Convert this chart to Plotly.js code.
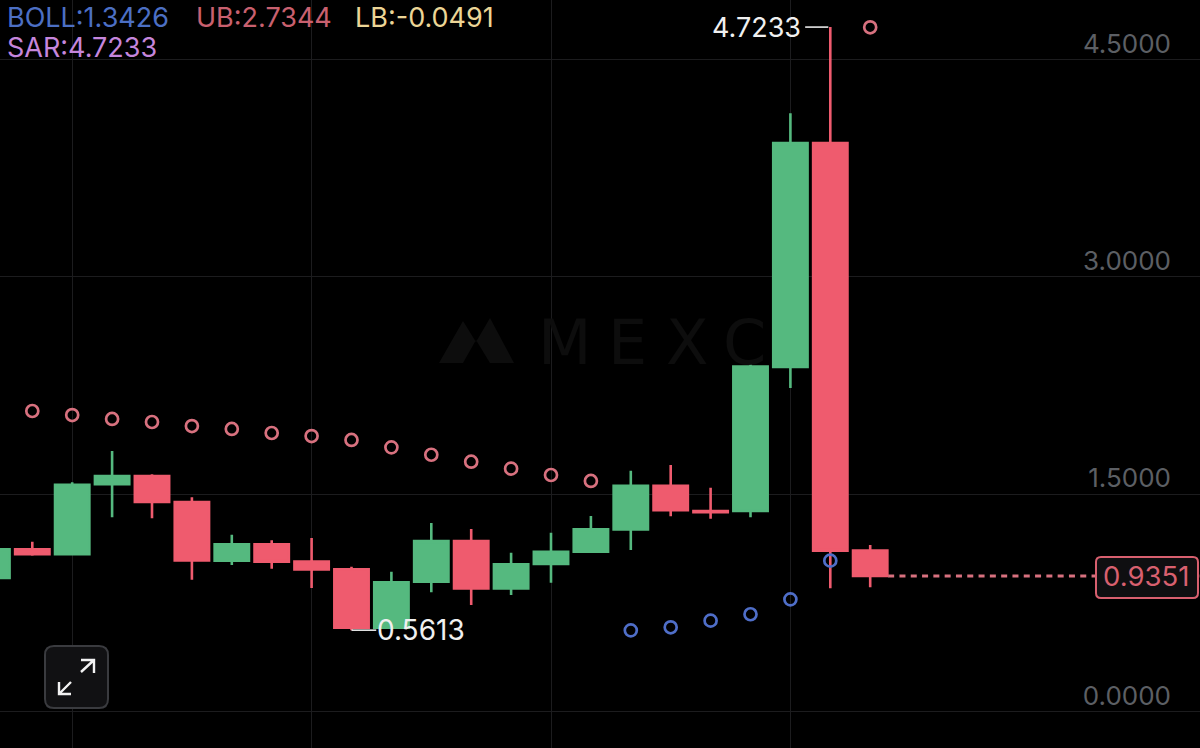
<!DOCTYPE html>
<html>
<head>
<meta charset="utf-8">
<script src="https://cdn.plot.ly/plotly-3.0.1.min.js"></script>
<style>html,body{margin:0;padding:0;background:#000;overflow:hidden}#chart{width:1200px;height:748px}</style>
</head>
<body>
<div id="chart"></div>
<script>
// ---- data ----
const candleIndex = [0,1,2,3,4,5,6,7,8,9,10,11,12,13,14,15,16,17,18,19,20,21,22];
const opens  = [0.921,1.119,1.085,1.568,1.625,1.446,1.041,1.154,1.034,0.981,0.578,0.896,1.177,0.850,1.018,1.103,1.257,1.558,1.384,1.384,2.378,3.923,1.110];
const closes = [1.119,1.085,1.565,1.625,1.446,1.043,1.154,1.034,0.981,0.578,0.892,1.177,0.850,1.016,1.103,1.257,1.558,1.389,1.376,2.380,3.923,1.110,0.9351];
const highs  = [1.119,1.172,1.582,1.798,1.637,1.478,1.220,1.181,1.197,0.999,0.965,1.301,1.260,1.096,1.234,1.349,1.662,1.701,1.545,2.398,4.128,4.7233,1.149];
const lows   = [0.921,1.075,1.078,1.340,1.333,0.910,1.011,0.986,0.852,0.5613,0.570,0.823,0.735,0.804,0.889,1.103,1.115,1.347,1.331,1.340,2.233,0.850,0.857];

const sarUpIndex = [1,2,3,4,5,6,7,8,9,10,11,12,13,14,15,22];
const sarUp      = [2.074,2.046,2.019,1.998,1.970,1.950,1.922,1.901,1.874,1.823,1.772,1.724,1.676,1.632,1.591,4.722];
const sarDownIndex = [16,17,18,19,20,21];
const sarDown      = [0.560,0.581,0.627,0.671,0.774,1.041];

const priceTicks = [0,1.5,3,4.5];
const timeGrid = [2,8,14,20];
const lastPrice = 0.9351, highPrice = 4.7233, lowPrice = 0.5613;
const highIndex = 21, lowIndex = 9;
const legendRow = [["BOLL:1.3426",6,17,"#4c6fc4"],["UB:2.7344",195,17,"#c9606f"],["LB:-0.0491",354,17,"#ecd596"],["SAR:4.7233",6,48,"#c586dc"]];
const watermarkLetters = [["M",565],["E",627],["X",687],["C",745]];

// ---- helpers (page pixels to paper fractions, for overlay furniture only) ----
const W = 1200, H = 748;
const px = x => +(x / W).toFixed(5), py = y => +(1 - y / H).toFixed(5);
const SPACING = 39.9, X0 = -7.6, PXPERUNIT = 144.9, Y0 = 711.5;
const path = (cmds) => cmds.map(c => typeof c === 'string' ? c : px(c[0]) + ',' + py(c[1])).join(' ');
function roundRect(l, t, r, b, k) {
  return path(['M',[l+k,t],'L',[r-k,t],'Q',[r,t],[r,t+k],'L',[r,b-k],'Q',[r,b],[r-k,b],'L',[l+k,b],'Q',[l,b],[l,b-k],'L',[l,t+k],'Q',[l,t],[l+k,t],'Z']);
}
const FONT = 'Inter, "Liberation Sans", sans-serif';
const GREEN = '#55b97f', RED = '#ef5b6e', HOLLOW_RED = '#d8717f', HOLLOW_BLUE = '#4f6ec8', GRID = '#1c1c1e';

const traces = [
  { type:'candlestick', x:candleIndex, open:opens, high:highs, low:lows, close:closes,
    whiskerwidth:0,
    increasing:{line:{color:GREEN,width:2.6},fillcolor:GREEN},
    decreasing:{line:{color:RED,width:2.6},fillcolor:RED},
    hoverinfo:'skip', showlegend:false },
  { type:'scatter', mode:'markers', x:sarUpIndex, y:sarUp, showlegend:false, hoverinfo:'skip',
    marker:{symbol:'circle-open',size:12,color:HOLLOW_RED,line:{width:2.7,color:HOLLOW_RED}} },
  { type:'scatter', mode:'markers', x:sarDownIndex, y:sarDown, showlegend:false, hoverinfo:'skip',
    marker:{symbol:'circle-open',size:12,color:HOLLOW_BLUE,line:{width:2.7,color:HOLLOW_BLUE}} },
  { type:'scatter', mode:'lines', x:[22.45,30.5], y:[lastPrice,lastPrice], showlegend:false, hoverinfo:'skip',
    line:{color:HOLLOW_RED,width:2.8,dash:'6px 5.3px'} }
];

const annotations = legendRow.map(r => ({
  xref:'paper', yref:'paper', x:px(r[1]), y:py(r[2]), xanchor:'left', yanchor:'middle', borderpad:0,
  text:r[0], showarrow:false, font:{family:FONT,size:27,color:r[3]}
}));
annotations.push(
  { xref:'x', yref:'y', x:highIndex, y:highPrice, xshift:-27, xanchor:'right', yanchor:'middle', text:highPrice.toFixed(4), showarrow:false, font:{family:FONT,size:27,color:'#f0f0f0'} },
  { xref:'x', yref:'y', x:lowIndex, y:lowPrice, xshift:23, xanchor:'left', yanchor:'middle', text:lowPrice.toFixed(4), showarrow:false, font:{family:FONT,size:28,color:'#f0f0f0'} },
  { xref:'paper', yref:'y', x:px(1146), y:lastPrice, xanchor:'center', yanchor:'middle', text:lastPrice.toFixed(4), showarrow:false, font:{family:FONT,size:27.5,color:'#d8606f'} }
);
watermarkLetters.forEach(l => annotations.push(
  { xref:'paper', yref:'paper', x:px(l[1]), y:py(342), xanchor:'center', yanchor:'middle', text:l[0], showarrow:false, font:{family:'"DejaVu Sans", sans-serif',size:62,color:'#0d0d0d'} }
));

const shapes = [
  // watermark logo
  { type:'path', layer:'below', xref:'paper', yref:'paper', line:{width:0}, fillcolor:'#0d0d0d',
    path:path(['M',[439,363],'L',[463,321],'L',[476,342],'L',[490,318],'L',[514,363],'L',[490,363],'L',[476,340],'L',[463,363],'Z']) },
  // high / low leader lines
  { type:'line', xref:'x', yref:'y', x0:highIndex-0.63, x1:highIndex-0.05, y0:highPrice, y1:highPrice, line:{color:'#e8e8e8',width:1.6} },
  { type:'line', xref:'x', yref:'y', x0:lowIndex, x1:lowIndex+0.62, y0:lowPrice, y1:lowPrice, line:{color:'#e8e8e8',width:1.6} },
  // last price tag
  { type:'path', xref:'paper', yref:'paper', fillcolor:'#0f0f11', line:{color:'#d8606f',width:2}, path:roundRect(1096,557,1198,598,5), layer:'above' },
  // expand button
  { type:'path', xref:'paper', yref:'paper', fillcolor:'#111113', line:{color:'#3a3b3f',width:2}, path:roundRect(45,646,108,708,9), layer:'above' },
  { type:'path', xref:'paper', yref:'paper', line:{color:'#f2f2f2',width:2.4}, path:path(['M',[81,672],'L',[94,660],'M',[81,660],'L',[94,660],'L',[94,673]]), layer:'above' },
  { type:'path', xref:'paper', yref:'paper', line:{color:'#f2f2f2',width:2.4}, path:path(['M',[71,682],'L',[59,694],'M',[59,682],'L',[59,694],'L',[71,694]]), layer:'above' }
];

const layout = {
  width:W, height:H, margin:{l:0,r:0,t:0,b:0,pad:0},
  paper_bgcolor:'#000', plot_bgcolor:'#000', showlegend:false, boxgap:0.14, boxgroupgap:0,
  xaxis:{ type:'linear', range:[(0-X0)/SPACING,(W-X0)/SPACING], rangeslider:{visible:false},
          tickmode:'array', tickvals:timeGrid, showticklabels:false, ticks:'',
          showgrid:true, gridcolor:GRID, gridwidth:1, zeroline:false, showline:false, fixedrange:true },
  yaxis:{ range:[(Y0-H)/PXPERUNIT,Y0/PXPERUNIT], side:'right',
          tickmode:'array', tickvals:priceTicks, tickformat:'.4f', ticks:'',
          ticklabelposition:'inside', ticklabelstandoff:26, ticklabelshift:-16,
          tickfont:{family:FONT,size:26,color:'#5c5f64'},
          showgrid:true, gridcolor:GRID, gridwidth:1, zeroline:false, showline:false, fixedrange:true },
  annotations, shapes
};
Plotly.newPlot('chart', traces, layout, {displayModeBar:false, staticPlot:true});
</script>
</body>
</html>
